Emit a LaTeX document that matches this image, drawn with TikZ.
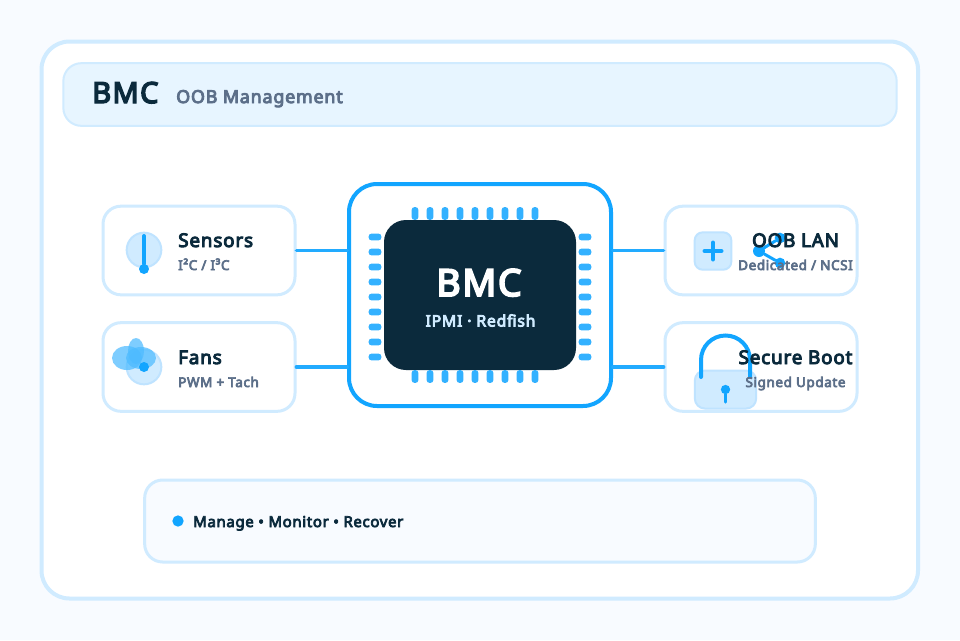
\documentclass[tikz,border=0pt]{standalone}
\usepackage{fontspec}
\setmainfont{Noto Sans}[BoldFont={Noto Sans},BoldFeatures={FakeBold=5,LetterSpace=4.5}]
\usetikzlibrary{positioning}
\definecolor{pagebg}{HTML}{F8FBFF}
\definecolor{paleblue}{HTML}{D0EBFF}
\definecolor{headbg}{HTML}{E7F5FF}
\definecolor{accent}{HTML}{12A5FF}
\definecolor{pinblue}{HTML}{33B1FF}
\definecolor{linkblue}{HTML}{22ABFF}
\definecolor{darkchip}{HTML}{0B2A3C}
\definecolor{subgrey}{HTML}{5C6F89}
\definecolor{iconedge}{HTML}{BFE3FF}
\tikzstyle{card} = [rectangle, draw=paleblue, fill=white, line width=2.25pt, rounded corners=13.5pt, minimum width=144pt, minimum height=66.5pt]
\tikzstyle{title} = [anchor=base, font=\bfseries\fontsize{14.1}{16}\selectfont, text=darkchip, inner sep=0pt]
\tikzstyle{subtitle} = [anchor=base, font=\bfseries\fontsize{10.1}{12}\selectfont, text=subgrey, inner sep=0pt]
\tikzstyle{link} = [line width=2.8pt, draw=linkblue, line cap=round]
\tikzstyle{hpin} = [rectangle, fill=pinblue, rounded corners=2pt, minimum width=9.5pt, minimum height=5pt, inner sep=0pt]
\tikzstyle{vpin} = [rectangle, fill=pinblue, rounded corners=2pt, minimum width=5pt, minimum height=9.5pt, inner sep=0pt]
\tikzstyle{iconbg} = [draw=iconedge, fill=paleblue, line width=1.5pt]
\tikzstyle{iconline} = [draw=accent, line width=3pt, line cap=round]
\tikzstyle{blade} = [fill=accent!75!white, fill opacity=0.72]

\begin{document}
\begin{tikzpicture}[x=0.75pt, y=-0.75pt]
	\useasboundingbox (0,0) rectangle (960,640);
	\fill [pagebg] (0,0) rectangle (960,640);
	\draw [paleblue, fill=white, line width=3pt, rounded corners=21pt] (41.5,41.5) rectangle (918,598.5);
	\node (Header) [rectangle, draw=paleblue, fill=headbg, line width=1.5pt, rounded corners=13.5pt, minimum width=625pt, minimum height=47pt] at (480,94.5) {};
	\node (HeaderTitle) [anchor=base west, inner sep=0pt, font=\bfseries\fontsize{21.8}{28}\selectfont, text=darkchip] at (92,103) {BMC};
	\node (HeaderSub) [anchor=base west, inner sep=0pt, font=\bfseries\fontsize{13.4}{16}\selectfont, text=subgrey] at (176,103) {OOB Management};

	\node (Sensors) [card] at (199,250.5) {};
	\node (Fans) [card] at (199,367) {};
	\node (Lan) [card] at (761,250.5) {};
	\node (Boot) [card] at (761,367) {};
	\node (Package) [rectangle, draw=accent, fill=white, line width=3pt, rounded corners=21pt, minimum width=196.5pt, minimum height=166.5pt] at (480,295) {};
	\node (Die) [rectangle, fill=darkchip, rounded corners=16.5pt, minimum width=144pt, minimum height=112.5pt] at (480,295) {};

	\draw [link] (Sensors.east) -- (Sensors.east -| Package.west);
	\draw [link] (Fans.east) -- (Fans.east -| Package.west);
	\draw [link] (Lan.west) -- (Lan.west -| Package.east);
	\draw [link] (Boot.west) -- (Boot.west -| Package.east);

	\foreach \i in {0,...,8} {
		\node (PinTop\i) [vpin] at (415+15*\i,213.5) {};
		\node (PinBottom\i) [vpin] at (415+15*\i,376.5) {};
		\node (PinLeft\i) [hpin] at (375,237+15*\i) {};
		\node (PinRight\i) [hpin] at (585,237+15*\i) {};
	}
	\node (DieTitle) [anchor=base, inner sep=0pt, text=white, font=\bfseries\fontsize{28}{32}\selectfont] at (479,296) {BMC};
	\node (DieSub) [anchor=base, inner sep=0pt, text=paleblue, font=\bfseries\fontsize{11.9}{14}\selectfont] at (480.5,326.5) {IPMI · Redfish};

	% left icons
	\node (SensorDial) [circle, iconbg, minimum size=26pt, inner sep=0pt] at (144,250) {};
	\coordinate (SensorTop) at (144,236);
	\node (SensorBulb) [circle, fill=accent, minimum size=7.5pt, inner sep=0pt] at (144,269) {};
	\draw [iconline] (SensorTop) -- (SensorBulb);
	\node (FanHub) [circle, iconbg, minimum size=26pt, inner sep=0pt] at (144,367) {};
	\fill [blade] (127,358) ellipse (15 and 12);
	\fill [blade] (136,351) ellipse (8 and 13);
	\fill [blade] (141,358) ellipse (15 and 11);
	\node (FanDot) [circle, fill=accent, minimum size=7.5pt, inner sep=0pt] at (144,367) {};

	% right icons
	\node (LanBox) [rectangle, iconbg, rounded corners=6pt, minimum width=27.5pt, minimum height=28pt] at (713,251) {};
	\draw [iconline] (704.5,251) -- (721.5,251);
	\draw [iconline] (713,242.5) -- (713,259.5);
	\node (LanA) [circle, fill=accent, minimum size=9pt, inner sep=0pt] at (759,251) {};
	\node (LanB) [circle, fill=accent, minimum size=8pt, inner sep=0pt] at (780,238) {};
	\node (LanC) [circle, fill=accent, minimum size=8pt, inner sep=0pt] at (780,263) {};
	\draw [iconline, line width=2.25pt] (LanA) -- (LanB);
	\draw [iconline, line width=2.25pt] (LanA) -- (LanC);
	\node (LockBody) [rectangle, iconbg, rounded corners=7.5pt, minimum width=46pt, minimum height=28.5pt] at (725.5,389.5) {};
	\coordinate (ShackleLeft) at (701,377);
	\coordinate (ShackleRight) at (750,377);
	\draw [iconline] (ShackleLeft) -- (701,360) arc [start angle=180, end angle=0, x radius=24.5, y radius=-24.5] -- (ShackleRight);
	\node (KeyHole) [circle, fill=accent, minimum size=7pt, inner sep=0pt] at (725.5,389.5) {};
	\coordinate (KeyEnd) at (725.5,402);
	\draw [iconline, line width=2.25pt] (KeyHole) -- (KeyEnd);

	\node (SensorsTitle) [title, anchor=base west] at (178,247) {Sensors};
	\node (SensorsSub) [subtitle, anchor=base west] at (178,270) {I²C / I³C};
	\node (FansTitle) [title, anchor=base west] at (178,364) {Fans};
	\node (FansSub) [subtitle, anchor=base west] at (178,387) {PWM + Tach};
	\node (LanTitle) [title] at (795.5,247) {OOB LAN};
	\node (LanSub) [subtitle] at (795.5,270) {Dedicated / NCSI};
	\node (BootTitle) [title] at (795.5,364) {Secure Boot};
	\node (BootSub) [subtitle] at (795.5,387) {Signed Update};

	\node (Footer) [rectangle, draw=paleblue, fill=pagebg, line width=2.25pt, rounded corners=13.5pt, minimum width=503pt, minimum height=61.5pt] at (480,521) {};
	\node (FooterDot) [circle, fill=accent, minimum size=8.5pt, inner sep=0pt] at (178,521) {};
	\node (FooterText) [anchor=base west, inner sep=0pt, font=\bfseries\fontsize{11.2}{14}\selectfont, text=darkchip] at (193,527) {Manage • Monitor • Recover};
\end{tikzpicture}
\end{document}
